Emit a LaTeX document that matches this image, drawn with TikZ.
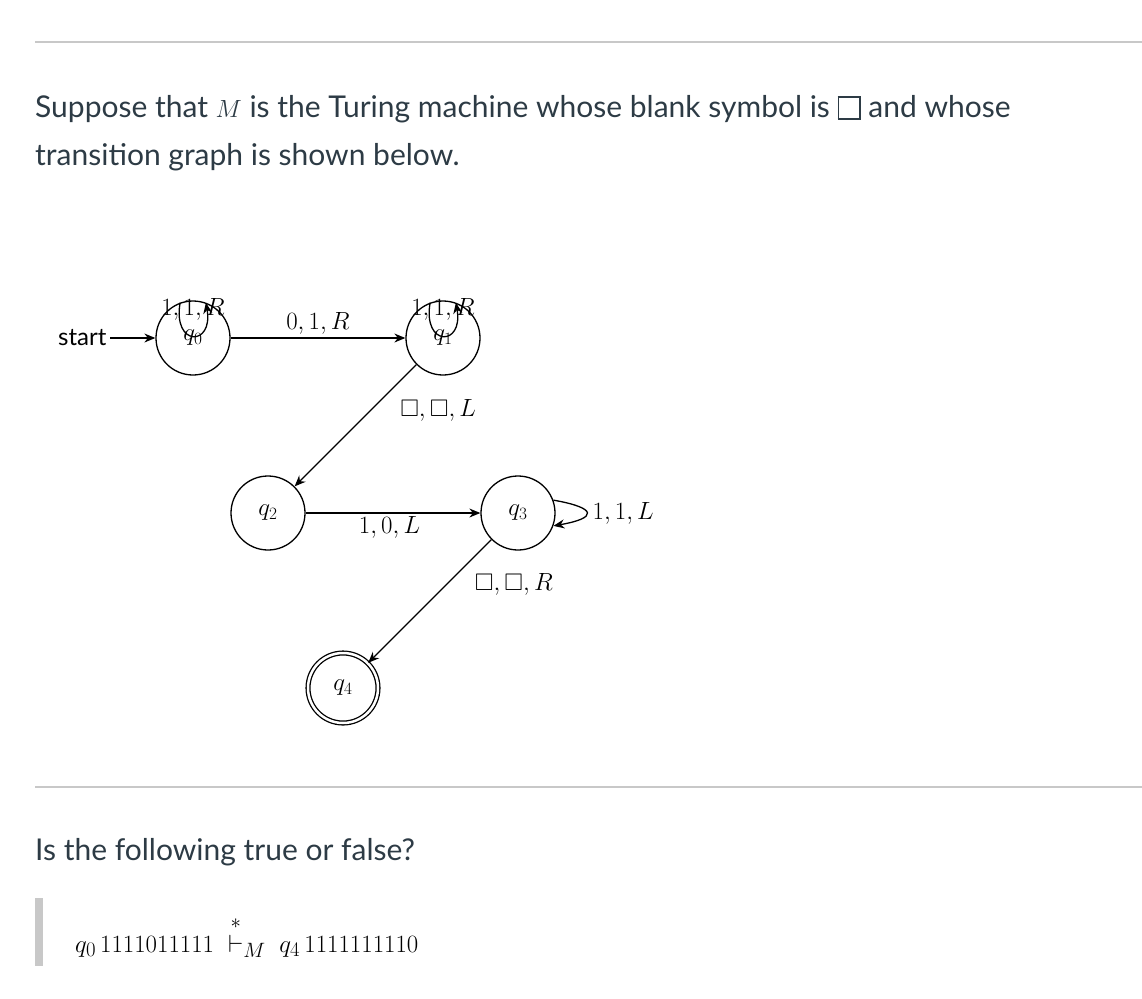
\documentclass[tikz,border=0pt]{standalone}
\usepackage{amssymb}
\usepackage{fontspec}
\setmainfont{Lato}
\usetikzlibrary{arrows.meta}
\definecolor{rulegray}{RGB}{200,200,200}
\definecolor{txt}{RGB}{45,59,69}
\newcommand{\blankbox}{{\setlength\fboxsep{0pt}\setlength\fboxrule{1.6pt}\raisebox{-1pt}{\fbox{\rule{0pt}{20pt}\rule{20pt}{0pt}}}}}
\begin{document}
\begin{tikzpicture}[x=1pt,y=-1pt,
  st/.style={draw,circle,minimum size=74pt,inner sep=0pt,line width=1.3pt,font=\fontsize{24}{28}\selectfont},
  lab/.style={font=\fontsize{24}{28}\selectfont},
  ed/.style={line width=1.3pt,-{Stealth[length=11pt,width=9pt]}}]
\useasboundingbox (0,0) rectangle (1142,998);
\draw[rulegray,line width=1.2pt] (35,42) -- (1142,42);
\node[anchor=base west,text=txt,font=\fontsize{30}{36}\selectfont,inner sep=0pt] (t1) at (35,117) {Suppose that $M$ is the Turing machine whose blank symbol is \blankbox{} and whose};
\node[anchor=base west,text=txt,font=\fontsize{30}{36}\selectfont,inner sep=0pt] (t2) at (35,165) {transition graph is shown below.};
\node[st] (q0) at (193,338) {$q_0$};
\node[st] (q1) at (443,338) {$q_1$};
\node[st] (q2) at (268,513) {$q_2$};
\node[st] (q3) at (518,513) {$q_3$};
\node[st,double,double distance=2.5pt,minimum size=70pt] (q4) at (343,688) {$q_4$};
\node[lab,anchor=east] (start) at (110,338) {start};
\draw[ed] (start) -- (q0);
\draw[ed] (q0.110) .. controls +(100:45) and +(80:45) .. (q0.70) node[pos=0.5,above=12pt,lab] {$1,1,R$};
\draw[ed] (q1.110) .. controls +(100:45) and +(80:45) .. (q1.70) node[pos=0.5,above=12pt,lab] {$1,1,R$};
\draw[ed] (q0) -- node[above,lab] {$0,1,R$} (q1);
\draw[ed] (q1) -- node[pos=0.28,right=14pt,lab,yshift=-12pt] {$\square,\square,L$} (q2);
\draw[ed] (q2) -- node[below,lab,pos=0.48] {$1,0,L$} (q3);
\draw[ed] (q3.20) .. controls +(10:45) and +(-10:45) .. (q3.-20) node[pos=0.5,right=2pt,lab] {$1,1,L$};
\draw[ed] (q3) -- node[pos=0.28,right=14pt,lab,yshift=-10pt] {$\square,\square,R$} (q4);
\draw[rulegray,line width=1.2pt] (35,787) -- (1142,787);
\node[anchor=base west,text=txt,font=\fontsize{30}{36}\selectfont,inner sep=0pt] (t3) at (35,860) {Is the following true or false?};
\fill[rulegray] (35,898) rectangle (43,966);
\node[anchor=base west,inner sep=0pt,font=\fontsize{32}{38}\selectfont] (f) at (75,952) {$q_0\,1111011111 \;\stackrel{*}{\vdash}_{M}\; q_4\,1111111110$};
\end{tikzpicture}
\end{document}
